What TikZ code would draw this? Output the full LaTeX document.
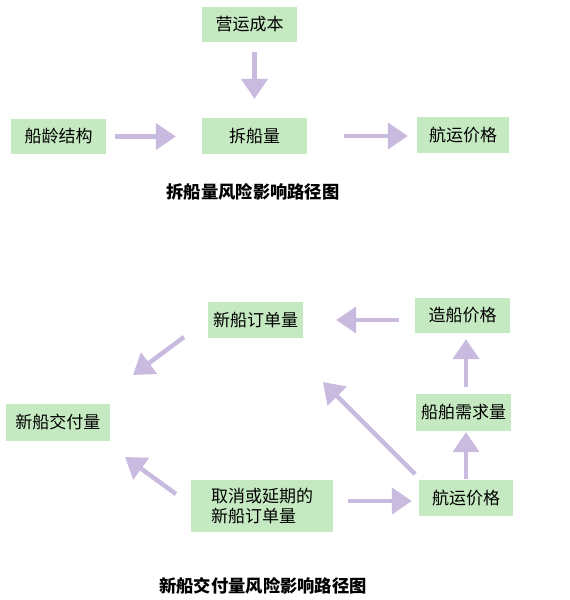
\documentclass[tikz,border=0pt]{standalone}
\usepackage{fontspec}
\setmainfont{Noto Sans CJK SC}
\usetikzlibrary{arrows.meta,calc}
\definecolor{boxgreen}{RGB}{197,233,193}
\definecolor{arrowlilac}{RGB}{201,186,224}
\begin{document}
\begin{tikzpicture}[
      x=1pt, y=-1pt,
      box/.style={fill=boxgreen, inner sep=0pt, font=\fontsize{17}{20}\selectfont},
      arr/.style={draw=arrowlilac, line width=4.5pt,
        -{Triangle[width=26pt,length=20pt]}},
      caption/.style={font=\bfseries\fontsize{17.3}{20}\selectfont}
    ]
      \useasboundingbox (0,0) rectangle (570,600);
      % upper picture
      \node[box, minimum width=95pt, minimum height=35pt] (cost) at (249.5,24.5) {营运成本};
      \node[box, minimum width=95pt, minimum height=35pt] (age) at (58.5,136.5) {船龄结构};
      \node[box, minimum width=105pt, minimum height=36pt] (scrap) at (254.5,136) {拆船量};
      \node[box, minimum width=92pt, minimum height=36pt] (price) at (463,135) {航运价格};
      \draw[arr, shorten <=10pt, shorten >=19pt] (cost.south -| scrap) -- (scrap.north);
      \draw[arr, shorten <=9pt, shorten >=26pt] (age.east) -- (age.east -| scrap.west);
      \draw[arr, shorten <=37pt, shorten >=9pt] (scrap.east) -- (scrap.east -| price.west);
      \node[caption] (title1) at (253,192) {拆船量风险影响路径图};
      % lower picture
      \node[box, minimum width=95pt, minimum height=36pt] (order) at (255.5,320) {新船订单量};
      \node[box, minimum width=95pt, minimum height=35pt] (yardprice) at (462.5,315.5) {造船价格};
      \node[box, minimum width=95pt, minimum height=37pt] (demand) at (463.5,412.5) {船舶需求量};
      \node[box, minimum width=104pt, minimum height=37pt] (delivery) at (58,422.5) {新船交付量};
      \node[box, minimum width=142pt, minimum height=52pt, align=left] (cancel) at (262,506)
        {取消或延期的\\新船订单量};
      \node[box, minimum width=94pt, minimum height=36pt] (freight) at (466,498) {航运价格};
      \coordinate (orderout) at (184,337);
      \coordinate (deliveryin) at (133,375);
      \coordinate (freightout) at (415,474);
      \coordinate (orderin) at (323,382);
      \coordinate (cancelout) at (176,494);
      \coordinate (deliveryin2) at (125,457);
      \draw[arr, shorten <=16pt, shorten >=33pt] (yardprice.west |- order) -- (order.east);
      \draw[arr, shorten <=7pt, shorten >=6pt] (demand.north -| 466,0) -- (yardprice.south -| 466,0);
      \draw[arr, shorten <=1pt, shorten >=1pt] (freight.north) -- (freight.north |- demand.south);
      \draw[arr, shorten <=15pt, shorten >=7pt] (cancel.east |- 0,501) -- (freight.west |- 0,501);
      \draw[arr] (orderout) -- (deliveryin);
      \draw[arr] (freightout) -- (orderin);
      \draw[arr] (cancelout) -- (deliveryin2);
      \node[caption] (title2) at (263,586) {新船交付量风险影响路径图};
\end{tikzpicture}
\end{document}
